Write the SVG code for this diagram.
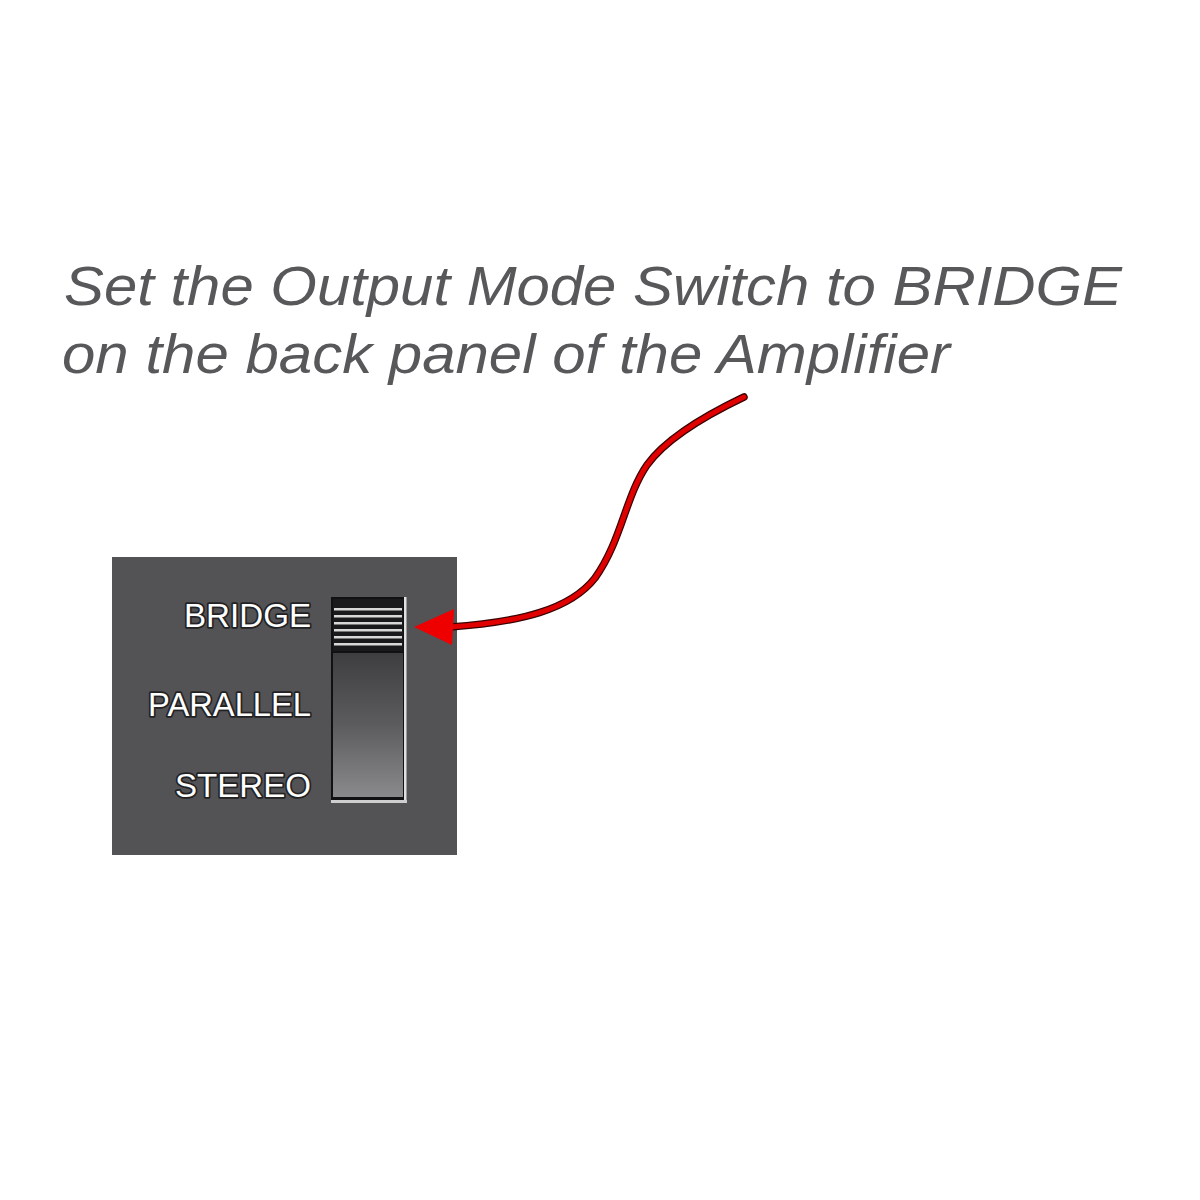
<svg xmlns="http://www.w3.org/2000/svg" width="1200" height="1200" viewBox="0 0 1200 1200">
<defs>
<linearGradient id="knob" x1="0" y1="0" x2="0" y2="1">
<stop offset="0" stop-color="#3e3e40"/>
<stop offset="0.5" stop-color="#5c5c5e"/>
<stop offset="1" stop-color="#8a8a8c"/>
</linearGradient>
<style>
.cap{font-family:"Liberation Sans",Arial,sans-serif;font-style:italic;font-size:56px;fill:#58585a;}
.lbl{font-family:"Liberation Sans",Arial,sans-serif;font-size:33px;fill:#ffffff;text-anchor:end;stroke:#222224;stroke-width:3.5px;paint-order:stroke;stroke-linejoin:round;}
.stripe{fill:#d8d8d8;}
</style>
</defs>
<rect width="1200" height="1200" fill="#ffffff"/>
<g id="caption">
<text class="cap" x="64" y="305" textLength="1058" lengthAdjust="spacingAndGlyphs">Set the Output Mode Switch to BRIDGE</text>
<text class="cap" x="62" y="373" textLength="888" lengthAdjust="spacingAndGlyphs">on the back panel of the Amplifier</text>
</g>
<g id="panel">
<rect x="112" y="557" width="345" height="298" fill="#535355"/>
<text class="lbl" x="311" y="627" textLength="127" lengthAdjust="spacingAndGlyphs">BRIDGE</text>
<text class="lbl" x="311" y="716" textLength="163" lengthAdjust="spacingAndGlyphs">PARALLEL</text>
<text class="lbl" x="311" y="797" textLength="136" lengthAdjust="spacingAndGlyphs">STEREO</text>
</g>
<g id="switch">
<rect x="331" y="597" width="75" height="206" fill="#111113"/>
<rect x="333" y="653" width="70" height="144" fill="url(#knob)"/>
<rect x="333" y="599" width="70" height="52" fill="#1a1a1c"/>
<rect class="stripe" x="334" y="608" width="68" height="2.5"/>
<rect class="stripe" x="334" y="615" width="68" height="2.5"/>
<rect class="stripe" x="334" y="622" width="68" height="2.5"/>
<rect class="stripe" x="334" y="629" width="68" height="2.5"/>
<rect class="stripe" x="334" y="636" width="68" height="2.5"/>
<rect class="stripe" x="334" y="643" width="68" height="2.5"/>
<rect x="404" y="597" width="2.5" height="206" fill="#e0e0e0"/>
<rect x="331" y="800" width="76" height="3" fill="#cfcfcf"/>
</g>
<g id="connectors">
<path d="M744,397 C700,418 665,440 647,465 C625,497 622,540 595,578 C570,610 520,622 450,627" fill="none" stroke="#3a0000" stroke-width="7.5" stroke-linecap="round"/>
<path d="M744,397 C700,418 665,440 647,465 C625,497 622,540 595,578 C570,610 520,622 450,627" fill="none" stroke="#e00000" stroke-width="5" stroke-linecap="round"/>
<polygon points="414,627 454,609 452,645" fill="#ee0000"/>
</g>
</svg>
